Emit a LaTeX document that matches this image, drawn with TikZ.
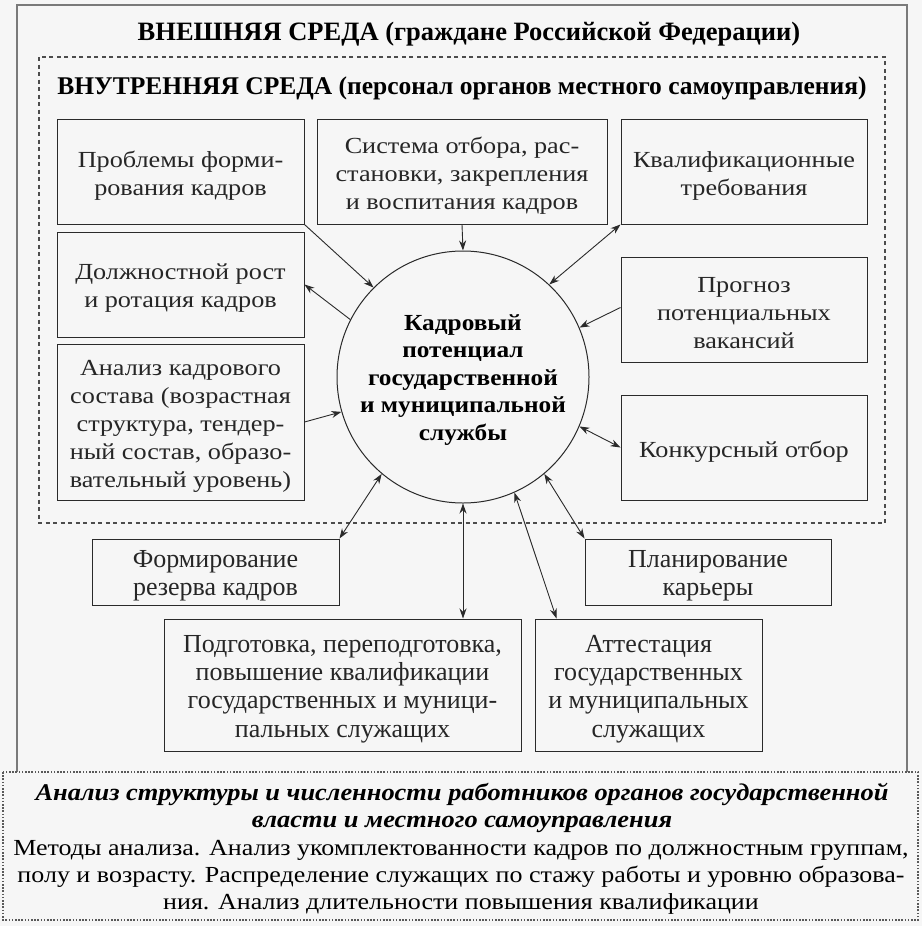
\documentclass[tikz,border=0pt]{standalone}
\usepackage{fontspec}
\setmainfont{Liberation Serif}
\newfontfamily\widefont[FakeStretch=1.14]{Liberation Serif}
\newfontfamily\circfont[FakeStretch=1.10]{Liberation Serif}
\newfontfamily\botfont[FakeStretch=1.13]{Liberation Serif}
\newfontfamily\bothfont[FakeStretch=1.10]{Liberation Serif}
\usetikzlibrary{arrows.meta,calc}
\definecolor{bgc}{HTML}{F6F6F6}
\definecolor{linec}{HTML}{2A2A2A}
\definecolor{outc}{HTML}{7A7A7A}
\begin{document}
\begin{tikzpicture}[x=1pt,y=-1pt,
  box/.style={draw=linec, line width=1pt, inner sep=0pt},
  btext/.style={align=center, inner sep=0pt, yshift=-4pt,
    font=\widefont\fontsize{23}{28}\selectfont, text=black!85},
  ctext/.style={btext, font=\fontsize{26}{28.3}\selectfont},
  arr/.style={draw=linec, line width=0.9pt, -{Stealth[length=10pt,width=7pt]}},
  darr/.style={draw=linec, line width=0.9pt, {Stealth[length=10pt,width=7pt]}-{Stealth[length=10pt,width=7pt]}}]
\useasboundingbox (0,0) rectangle (922,926);
\fill[bgc] (0,0) rectangle (922,926);
% outer solid frame
\draw[outc, line width=1.6pt] (17,772) -- (17,5) -- (907,5) -- (907,772);
% inner dashed frame
\draw[black!70, line width=1.2pt, dash pattern=on 4pt off 3.5pt] (39,57) rectangle (885,523);
% bottom dotted box
\draw[black!65, line width=1.3pt, dash pattern=on 1.6pt off 1.6pt] (3,772) rectangle (918,920);

\node[font=\bfseries\fontsize{26.5}{28}\selectfont] (ext) at (469,34) {ВНЕШНЯЯ СРЕДА (граждане Российской Федерации)};
\node[font=\bfseries\fontsize{25.5}{28}\selectfont] (int) at (462,88.5) {ВНУТРЕННЯЯ СРЕДА (персонал органов местного самоуправления)};

\node[box, minimum width=247pt, minimum height=105pt] (b1) at (180.5,171.5) {};
\node[btext] (b1t) at (b1) {Проблемы форми-\\рования кадров};
\node[box, minimum width=290pt, minimum height=105pt] (b2) at (462,171.5) {};
\node[btext] (b2t) at (b2) {Система отбора, рас-\\становки, закрепления\\и воспитания кадров};
\node[box, minimum width=246pt, minimum height=105pt] (b3) at (744,171.5) {};
\node[btext] (b3t) at (b3) {Квалификационные\\требования};
\node[box, minimum width=247pt, minimum height=105pt] (b4) at (180.5,284.5) {};
\node[btext] (b4t) at (b4) {Должностной рост\\и ротация кадров};
\node[box, minimum width=247pt, minimum height=156pt] (b5) at (180.5,422) {};
\node[btext] (b5t) at (b5) {Анализ кадрового\\состава (возрастная\\структура, тендер-\\ный состав, образо-\\вательный уровень)};
\node[box, minimum width=246pt, minimum height=105pt] (b6) at (744,309.5) {};
\node[btext] (b6t) at (b6) {Прогноз\\потенциальных\\вакансий};
\node[box, minimum width=246pt, minimum height=105pt] (b7) at (744,447.5) {};
\node[btext] (b7t) at (b7) {Конкурсный отбор};
\node[box, minimum width=247pt, minimum height=66pt] (b8) at (215.5,572) {};
\node[ctext] (b8t) at (b8) {Формирование\\резерва кадров};
\node[box, minimum width=246pt, minimum height=66pt] (b9) at (708,572) {};
\node[ctext] (b9t) at (b9) {Планирование\\карьеры};
\node[box, minimum width=357pt, minimum height=132pt] (b10) at (342.5,685) {};
\node[ctext] (b10t) at (b10) {Подготовка, переподготовка,\\повышение квалификации\\государственных и муници-\\пальных служащих};
\node[box, minimum width=227pt, minimum height=132pt] (b11) at (648.5,685) {};
\node[ctext] (b11t) at (b11) {Аттестация\\государственных\\и муниципальных\\служащих};

\node[circle, draw=linec, line width=1pt, minimum size=252pt, inner sep=0pt] (c) at (463,377) {};
\node[align=center, inner sep=0pt, yshift=-3pt,
  font=\circfont\bfseries\fontsize{23}{27.5}\selectfont] (ct) at (c) {Кадровый\\потенциал\\государственной\\и муниципальной\\службы};

\draw[arr] (b1.south east) -- (c.135);
\draw[arr] (b2.south) -- (c.north);
\draw[darr] (b3.south west) -- (c.47);
\draw[arr] (c.153) -- (b4.east);
\draw[arr] (b5.east) -- (c.196);
\draw[arr] ($(b6.west)+(0,-2)$) -- (c.23);
\draw[darr] (c.-23) -- (b7.west);
\draw[darr] (c.230) -- (b8.north east);
\draw[darr] (c.south) -- (b10.north -| c.south);
\draw[darr] (c.294) -- ($(b11.north west)+(22,0)$);
\draw[darr] (c.310) -- (b9.north west);

\node[font=\bothfont\bfseries\itshape\fontsize{24}{27}\selectfont, align=center] (h) at (462,807.5) {Анализ структуры и численности работников органов государственной\\власти и местного самоуправления};
\node[font=\botfont\fontsize{23}{27}\selectfont, align=center] (t) at (461,877) {Методы анализа. Анализ укомплектованности кадров по должностным группам,\\полу и возрасту. Распределение служащих по стажу работы и уровню образова-\\ния. Анализ длительности повышения квалификации};
\end{tikzpicture}
\end{document}
